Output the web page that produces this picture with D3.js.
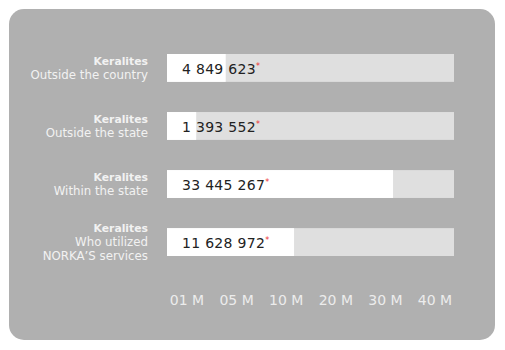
<!DOCTYPE html>
<html><head><meta charset="utf-8">
<script src="https://cdn.jsdelivr.net/npm/d3@7"></script>
<style>body{margin:0;background:#fff}svg{display:block}</style>
</head><body><svg id="c" width="505" height="350"></svg>
<script>
const categoryTitles = ["Keralites","Keralites","Keralites","Keralites"];
const categoryLines = [["Outside the country"],["Outside the state"],["Within the state"],["Who utilized","NORKA’S services"]];
const values = [4849623, 1393552, 33445267, 11628972];
const valueLabels = ["4 849 623","1 393 552","33 445 267","11 628 972"];
const tickValues = [1,5,10,20,30,40];
const tickLabels = ["01 M","05 M","10 M","20 M","30 M","40 M"];
// piecewise breakpoints of the non-uniform axis (millions)
const breakDomain = [0,1,5,10,20,30,40];
const breakFrac = [0,0.09,0.209,0.415,0.585,0.676,1];

const svg = d3.select("#c");
const font = "'DejaVu Sans', sans-serif";
svg.append("rect").attr("x",9).attr("y",9).attr("width",486).attr("height",331)
  .attr("rx",15).attr("fill","#b0b0b0");

const x0 = 167, x1 = 454;
const x = d3.scaleLinear().domain(breakDomain).range(breakFrac.map(f => x0 + f*(x1-x0)));
const y = d3.scaleBand().domain(d3.range(values.length)).range([54, 256]).paddingInner(0.52);
const tx = d3.scalePoint().domain(tickLabels).range([187, 435]);

const g = svg.append("g");
const rows = g.selectAll("g.row").data(values).join("g").attr("class","row");
rows.append("rect").attr("x",x0).attr("y",(d,i)=>y(i)).attr("width",x1-x0).attr("height",y.bandwidth()).attr("fill","#dfdfdf");
rows.append("rect").attr("x",x0).attr("y",(d,i)=>y(i)).attr("width",d=>x(d/1e6)-x0).attr("height",y.bandwidth()).attr("fill","#ffffff");
const vt = rows.append("text").attr("x",x0+15).attr("y",(d,i)=>y(i)+y.bandwidth()/2+6)
  .attr("font-family",font).attr("font-size",14).attr("letter-spacing",0.3).attr("fill","#222");
vt.append("tspan").text((d,i)=>valueLabels[i]);
vt.append("tspan").text("*").attr("fill","#e33").attr("font-size",8).attr("dy",-5).attr("letter-spacing",0);

rows.each(function(d,i){
  const lines = [categoryTitles[i]].concat(categoryLines[i]);
  const n = lines.length, lh = 14.3;
  const cy = y(i)+y.bandwidth()/2;
  const t = d3.select(this).append("text").attr("text-anchor","end")
    .attr("font-family",font).attr("fill","#f2f2f2");
  lines.forEach((s,k)=>{
    t.append("tspan").attr("x",148).attr("y",cy - (n-1)*lh/2 + k*lh + 3.8)
      .attr("font-size",k===0?10.8:11.8)
      .attr("font-weight",k===0?700:400).text(s);
  });
});

svg.append("g").selectAll("text").data(tickLabels).join("text")
  .attr("x",d=>tx(d)).attr("y",305).attr("text-anchor","middle")
  .attr("font-family",font).attr("font-size",14).attr("fill","#ececec").text(d=>d);
</script></body></html>
